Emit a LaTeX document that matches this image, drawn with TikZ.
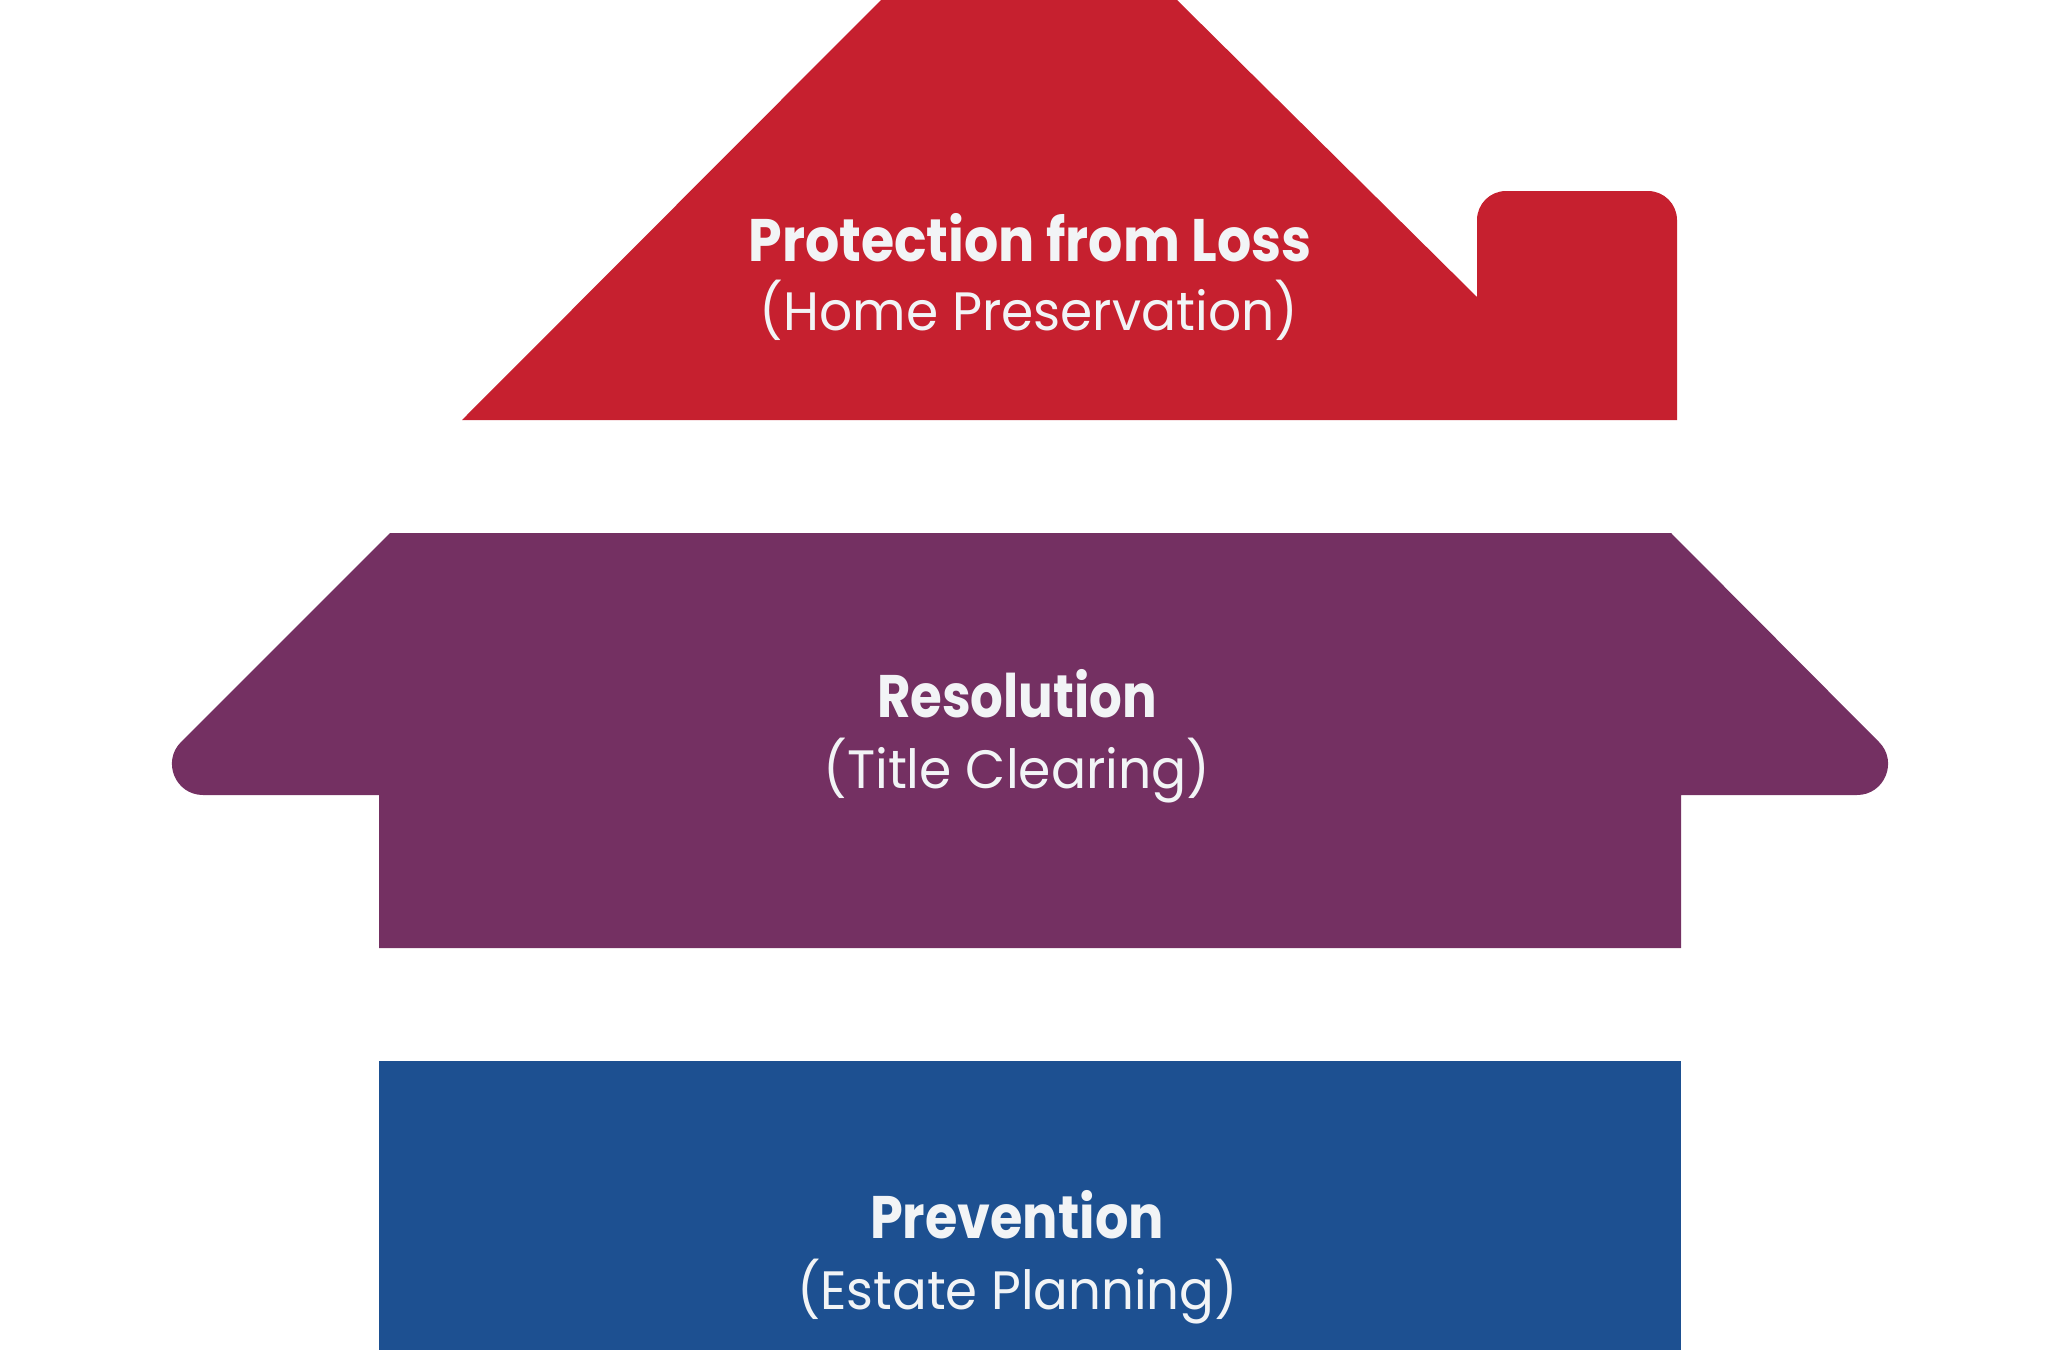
\documentclass[tikz,border=0pt]{standalone}
\usepackage{fontspec}
\usepackage{graphicx}
\setmainfont{Poppins}
\definecolor{roofred}{HTML}{C6202F}
\definecolor{midpurple}{HTML}{743062}
\definecolor{baseblue}{HTML}{1D5091}
\definecolor{labelwhite}{HTML}{F2F4F6}
\tikzset{
  titletext/.style={anchor=base, inner sep=0pt, text=labelwhite, font=\fontsize{30}{32}\selectfont\bfseries},
  subtext/.style={anchor=base, inner sep=0pt, text=labelwhite, font=\fontsize{27}{29}\selectfont}
}
\begin{document}
\begin{tikzpicture}[x=0.5pt,y=-0.5pt]
\useasboundingbox (0,0) rectangle (2058,1350);
% red roof with chimney
\fill[roofred] (881,0) -- (1177,0) -- (1477,297) -- (1477,220)
  .. controls (1477,204) and (1490,191) .. (1506,191) -- (1648,191)
  .. controls (1664,191) and (1677,204) .. (1677,220) -- (1677,420) -- (462,420) -- cycle;
% purple middle
\fill[midpurple] (390,533) -- (1671,533) -- (1879,742)
  .. controls (1898.5,761.5) and (1884.6,795) .. (1857,795) -- (1681,795) -- (1681,948)
  -- (379,948) -- (379,795) -- (203,795)
  .. controls (175.4,795) and (161.5,761.5) .. (181,742) -- cycle;
% blue base
\fill[baseblue] (379,1061) rectangle (1681,1350);
% labels
\node[titletext] (t1) at (1030,261) {\resizebox{281.5pt}{\height}{Protection from Loss}};
\node[subtext] (s1) at (1029,330) {\resizebox{269pt}{\height}{(Home Preservation)}};
\node[titletext] (t2) at (1017,717) {\resizebox{140pt}{\height}{Resolution}};
\node[subtext] (s2) at (1017,788) {\resizebox{193.5pt}{\height}{(Title Clearing)}};
\node[titletext] (t3) at (1017,1238) {\resizebox{147pt}{\height}{Prevention}};
\node[subtext] (s3) at (1017.5,1309) {\resizebox{220.5pt}{\height}{(Estate Planning)}};
\end{tikzpicture}
\end{document}
